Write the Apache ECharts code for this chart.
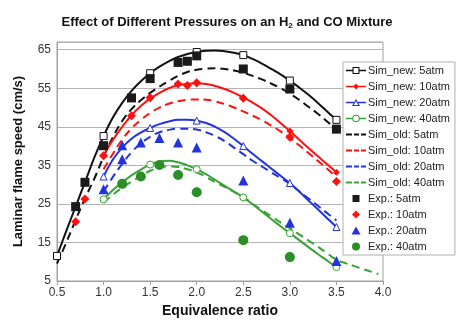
<!DOCTYPE html>
<html><head><meta charset="utf-8">
<script src="https://cdn.jsdelivr.net/npm/echarts@6/dist/echarts.min.js"></script>
<style>html,body{margin:0;padding:0;background:#fff}#c{width:474px;height:331px}</style>
</head><body><div id="c"></div>
<script>
// Equivalence ratio grids
const phiA = [0.5,0.6,0.7,0.8,0.9,1.0,1.1,1.2,1.3,1.4,1.5,1.6,1.7,1.8,1.9,2.0,2.1,2.2,2.3,2.4,2.5,2.6,2.7,2.8,2.9,3.0,3.1,3.2,3.3,3.4,3.5];
const phiB = [1.0,1.1,1.2,1.3,1.4,1.5,1.6,1.7,1.8,1.9,2.0,2.1,2.2,2.3,2.4,2.5,2.6,2.7,2.8,2.9,3.0,3.1,3.2,3.3,3.4,3.5];
const phiC = [1.0,1.1,1.2,1.3,1.4,1.5,1.6,1.7,1.8,1.9,2.0,2.1,2.2,2.3,2.4,2.5,2.6,2.7,2.8,2.9,3.0,3.1,3.2,3.3,3.4,3.5,3.6,3.7,3.8,3.9,3.95];

// Simulations (new mechanism)
const simNew5  = [11.5,18.0,24.3,30.6,37.0,42.6,47.4,51.2,54.3,56.8,58.9,60.6,62.0,63.1,63.9,64.4,64.7,64.8,64.6,64.2,63.6,62.6,61.4,60.0,58.6,57.0,55.2,53.3,51.2,49.0,46.8];
const simNew10 = [37.6,41.6,45.0,48.0,50.4,52.3,53.8,55.0,55.8,56.2,56.3,56.1,55.6,54.8,53.8,52.6,51.3,49.8,48.0,46.0,43.9,41.7,39.5,37.4,35.3,33.2];
const simNew20 = [32.1,36.5,39.6,41.9,43.5,44.7,45.7,46.4,46.8,46.8,46.6,46.0,45.0,43.6,41.9,40.0,38.0,36.1,34.2,32.3,30.4,28.2,25.9,23.6,21.3,19.0];
const simNew40 = [26.2,28.6,30.6,32.4,33.9,35.2,36.0,36.2,35.8,35.0,34.0,32.7,31.2,29.7,28.2,26.7,24.9,23.0,21.1,19.2,17.4,15.6,13.8,12.0,10.3,8.6];
// Simulations (old mechanism)
const simOld5  = [9.5,15.0,20.8,26.4,31.5,37.2,42.3,46.5,49.6,51.9,53.8,55.4,56.9,58.2,59.2,59.8,60.1,60.2,60.0,59.6,59.0,58.2,57.3,56.2,55.0,53.6,52.0,50.2,48.4,46.4,44.3];
const simOld10 = [34.0,38.0,41.7,44.6,46.8,48.6,50.0,51.0,51.6,52.0,52.1,52.0,51.6,50.9,50.0,49.0,47.9,46.7,45.3,43.8,42.1,40.2,38.2,36.2,34.1,32.0];
const simOld20 = [28.2,32.0,35.4,38.4,40.7,42.4,43.6,44.2,44.5,44.5,44.3,43.6,42.6,41.3,39.6,37.9,36.2,34.7,33.2,31.7,30.2,28.3,26.4,24.5,22.6,20.7];
const simOld40 = [25.4,27.4,29.2,30.8,32.2,33.6,34.4,34.7,34.6,34.0,33.2,32.0,30.6,29.4,28.1,26.8,25.0,23.4,21.8,20.2,18.7,17.1,15.5,13.9,12.2,10.5,9.6,8.8,8.0,7.2,6.8];

// Marker positions on Sim_new curves
const markX5 = [0.5,1.0,1.5,2.0,2.5,3.0,3.5];
const markX  = [1.0,1.5,2.0,2.5,3.0,3.5];

// Experiments
const exp5  = [[0.7,24.3],[0.8,30.6],[1.0,40.1],[1.3,52.5],[1.5,57.5],[1.8,61.7],[1.9,62.0],[2.0,63.4],[2.5,60.0],[3.0,54.8],[3.5,44.4]];
const exp10 = [[0.7,20.4],[0.8,26.3],[1.0,37.5],[1.3,47.9],[1.5,52.6],[1.8,56.1],[1.9,55.7],[2.0,56.4],[2.5,52.4],[3.0,42.3],[3.5,30.8]];
const exp20 = [[1.0,28.8],[1.2,36.6],[1.2,40.2],[1.4,40.9],[1.6,42.1],[1.8,40.9],[2.0,39.6],[2.5,31.1],[3.0,20.1],[3.5,10.2]];
const exp40 = [[1.2,30.2],[1.4,32.1],[1.6,35.1],[1.8,32.5],[2.0,28.0],[2.5,15.6],[3.0,11.2]];

const yTicks = [5,15,25,35,45,55,65];
const xTicks = [0.5,1.0,1.5,2.0,2.5,3.0,3.5,4.0];

const C = {k:'#111111', r:'#ff1010', b:'#2233e0', g:'#3aa335', gd:'#2a8f26'};

function pts(xs, ys){ return xs.map((x,i)=>[x,ys[i]]); }
function withMarks(xs, ys, marks){
  return xs.map((x,i)=>{
    const it = {value:[x,ys[i]]};
    if(!marks.some(m=>Math.abs(m-x)<1e-6)) it.symbol='none';
    return it;
  });
}
function simNew(name, xs, ys, marks, color, symbol, size, fill){
  return {name, type:'line', smooth:0.4, data:withMarks(xs,ys,marks), symbol, symbolSize:size, showSymbol:true,
    lineStyle:{color, width:2}, itemStyle:{color:fill, borderColor:color, borderWidth:1}, z:3};
}
function simOld(name, xs, ys, color){
  return {name, type:'line', smooth:0.4, data:pts(xs,ys), symbol:'none', showSymbol:false,
    lineStyle:{color, width:2, type:[8,5]}, itemStyle:{color}, z:2};
}
function expS(name, data, color, symbol, size){
  return {name, type:'scatter', data, symbol, symbolSize:size, itemStyle:{color, opacity:1}, z:5};
}

// legend icons (bounding box 0..20 x 0..10)
const BOX = 'M0,0M20,10';
const IC = {
  nSq:  'path://'+BOX+'M0,4.2h6.5v1.6h-6.5zM13.5,4.2h6.5v1.6h-6.5zM6.5,1.5h7v7h-7zM7.6,2.6v4.8h4.8v-4.8z',
  nDia: 'path://'+BOX+'M0,4.2h20v1.6h-20zM10,2L13,5L10,8L7,5z',
  nTri: 'path://'+BOX+'M0,4.2h8v1.6h-8zM12,4.2h8v1.6h-8zM10,1.5L14,8.5L6,8.5zM10,3.7L7.8,7.6L12.2,7.6z',
  nCir: 'path://'+BOX+'M0,4.2h6.2v1.6h-6.2zM13.8,4.2h6.2v1.6h-6.2zM6.2,5a3.8,3.8 0 1,0 7.6,0a3.8,3.8 0 1,0 -7.6,0zM7.3,5a2.7,2.7 0 1,1 5.4,0a2.7,2.7 0 1,1 -5.4,0z',
  dash: 'path://'+BOX+'M0,4.1h6v1.8h-6zM8,4.1h5v1.8h-5zM15,4.1h5v1.8h-5z',
  sq:   'path://'+BOX+'M6.5,1.5h7v7h-7z',
  dia:  'path://'+BOX+'M10,1L14,5L10,9L6,5z',
  tri:  'path://'+BOX+'M10,1L14.5,9L5.5,9z',
  cir:  'path://'+BOX+'M6,5a4,4 0 1,0 8,0a4,4 0 1,0 -8,0z'
};
function li(name, icon, color){ return {name, icon, itemStyle:{color, borderWidth:0, borderColor:color}}; }

const chart = echarts.init(document.getElementById('c'), null, {renderer:'canvas'});
chart.setOption({
  backgroundColor:'#fff',
  animation:false,
  title:{
    text:'Effect of Different Pressures on an H{sub|2} and CO Mixture',
    left:222, top:10, textAlign:'center',
    textStyle:{fontFamily:'Liberation Sans, Arial', fontWeight:'bold', fontSize:13, color:'#111',
      rich:{sub:{fontFamily:'Liberation Sans, Arial', fontWeight:'bold', fontSize:8, color:'#111', padding:[7,0,0,0]}}}
  },
  grid:{left:57, right:91, top:42, bottom:50, show:true, borderColor:'#a0a0a0', borderWidth:1, backgroundColor:'#fff'},
  legend:{
    orient:'vertical', left:343, top:62, padding:[3,5,3,3],
    backgroundColor:'#fff', borderColor:'#b0b0b0', borderWidth:1,
    itemWidth:20, itemHeight:10, itemGap:5,
    textStyle:{fontFamily:'Liberation Sans, Arial', fontSize:11, color:'#222', padding:[0,0,0,-3]},
    data:[
      li('Sim_new: 5atm', IC.nSq, C.k),
      li('Sim_new: 10atm', IC.nDia, C.r),
      li('Sim_new: 20atm', IC.nTri, C.b),
      li('Sim_new: 40atm', IC.nCir, C.g),
      li('Sim_old: 5atm', IC.dash, C.k),
      li('Sim_old: 10atm', IC.dash, C.r),
      li('Sim_old: 20atm', IC.dash, C.b),
      li('Sim_old: 40atm', IC.dash, C.g),
      li('Exp.: 5atm', IC.sq, '#1a1a1a'),
      li('Exp.: 10atm', IC.dia, C.r),
      li('Exp.: 20atm', IC.tri, C.b),
      li('Exp.: 40atm', IC.cir, C.gd)
    ]
  },
  xAxis:{
    type:'value', min:0.5, max:4.0, interval:0.5,
    name:'Equivalence ratio', nameLocation:'middle', nameGap:22,
    nameTextStyle:{fontFamily:'Liberation Sans, Arial', fontWeight:'bold', fontSize:14, color:'#111'},
    axisLine:{show:true, lineStyle:{color:'#a0a0a0'}},
    axisTick:{show:true, length:4, lineStyle:{color:'#a0a0a0'}},
    splitLine:{show:false},
    axisLabel:{fontFamily:'Liberation Sans, Arial', fontSize:12, color:'#333', margin:6,
      formatter:v=>xTicks.some(t=>Math.abs(t-v)<1e-6)?v.toFixed(1):''}
  },
  yAxis:{
    type:'value', min:5, max:67, interval:10,
    name:'Laminar flame speed (cm/s)', nameLocation:'middle', nameGap:32,
    nameTextStyle:{fontFamily:'Liberation Sans, Arial', fontWeight:'bold', fontSize:13, color:'#111'},
    axisLine:{show:true, lineStyle:{color:'#a0a0a0'}},
    axisTick:{show:false},
    splitLine:{show:true, lineStyle:{color:'#b4b4b4', width:1}},
    axisLabel:{fontFamily:'Liberation Sans, Arial', fontSize:12, color:'#333', margin:6, showMaxLabel:false,
      formatter:v=>yTicks.indexOf(v)>=0?String(v):''}
  },
  series:[
    simNew('Sim_new: 5atm', phiA, simNew5, markX5, C.k, 'rect', 7, '#fff'),
    simNew('Sim_new: 10atm', phiB, simNew10, markX, C.r, 'diamond', 6, C.r),
    simNew('Sim_new: 20atm', phiB, simNew20, markX, C.b, 'triangle', 7, '#fff'),
    simNew('Sim_new: 40atm', phiB, simNew40, markX, C.g, 'circle', 7, '#fff'),
    simOld('Sim_old: 5atm', phiA, simOld5, C.k),
    simOld('Sim_old: 10atm', phiB, simOld10, C.r),
    simOld('Sim_old: 20atm', phiB, simOld20, C.b),
    simOld('Sim_old: 40atm', phiC, simOld40, C.g),
    expS('Exp.: 5atm', exp5, '#1a1a1a', 'rect', 9),
    expS('Exp.: 10atm', exp10, C.r, 'diamond', 9),
    expS('Exp.: 20atm', exp20, C.b, 'triangle', 10),
    expS('Exp.: 40atm', exp40, C.gd, 'circle', 10)
  ]
});
</script></body></html>
